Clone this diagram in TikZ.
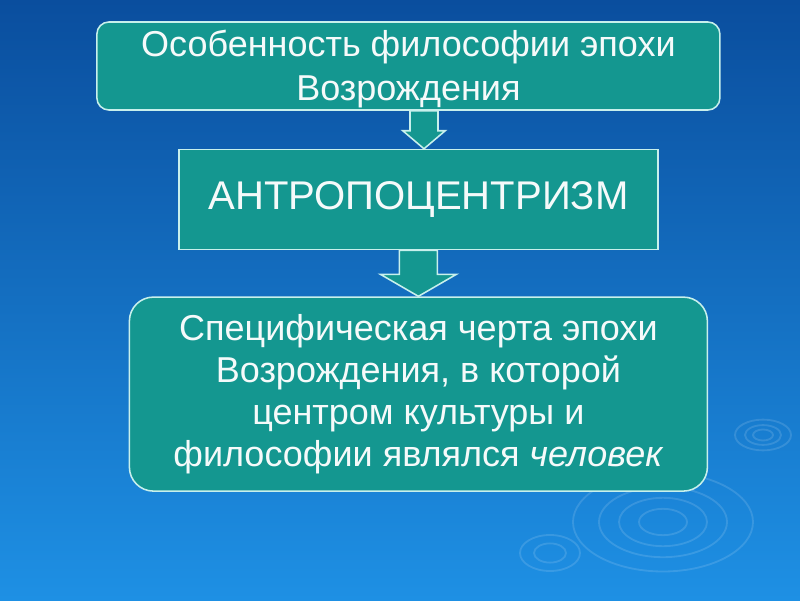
\documentclass[tikz,border=0pt]{standalone}
\usepackage{fontspec}
\setmainfont{Liberation Sans}
\usepackage{tikz}
\usetikzlibrary{positioning,calc,backgrounds}
\definecolor{bgtop}{RGB}{10,78,158}
\definecolor{bgbottom}{RGB}{30,144,228}
\definecolor{tealbox}{RGB}{20,151,144}
\definecolor{rim}{RGB}{200,240,236}
\definecolor{ink}{RGB}{245,250,250}

% block arrow: from, to, shaft half width, head half width, head length
\newcommand{\blockarrow}[5]{%
  \draw[arrowbody] let \p1=(#1), \p2=(#2) in
    (\x1-#3,\y1) -- (\x1+#3,\y1) -- (\x1+#3,\y2+#5) -- (\x1+#4,\y2+#5)
    -- (\x1,\y2) -- (\x1-#4,\y2+#5) -- (\x1-#3,\y2+#5) -- cycle;}

\begin{document}
\begin{tikzpicture}[
    box/.style={draw=rim, line width=1.1pt, fill=tealbox, text=ink, align=center, inner sep=0pt},
    bigtext/.style={font=\fontsize{25.6}{29.9}\selectfont},
    arrowbody/.style={draw=rim, line width=1.1pt, fill=tealbox, line join=miter},
    ripple/.style={draw=white, line width=1.3pt, opacity=0.13}
]
\useasboundingbox (0,0) rectangle (20,15);

% Boxes
\node[box, font=\fontsize{25.6}{31}\selectfont, text height=54pt, rounded corners=0.3cm, minimum width=15.575cm, minimum height=2.2cm] (feature) at (10.21,13.35) {Особенность философии эпохи\\Возрождения};
\node[box, font=\fontsize{28.5}{32}\selectfont, minimum width=11.975cm, minimum height=2.5cm, below=0.95cm of feature, xshift=0.25cm] (anthro) {АНТРОПОЦЕНТРИЗМ};
\node[box, bigtext, rounded corners=0.6cm, minimum width=14.45cm, minimum height=4.85cm, below=1.15cm of anthro] (trait) {Специфическая черта эпохи\\Возрождения, в которой\\центром культуры и\\философии являлся \textit{человек}};

% Arrows
\coordinate (a1) at ($(feature.south)+(0.39,0)$);
\blockarrow{a1}{a1 |- anthro.north}{0.35cm}{0.53cm}{0.45cm}
\blockarrow{anthro.south}{trait.north}{0.475cm}{0.95cm}{0.55cm}

% Background and ripples
\begin{scope}[on background layer]
\shade[top color=bgtop, bottom color=bgbottom] (0,0) rectangle (20,15);
\foreach \r in {0.25,0.45,0.7}
  \draw[ripple] (19.075,4.125) ellipse ({\r} and {0.55*\r});
\foreach \r in {0.6,1.1,1.6,2.25}
  \draw[ripple] (16.575,1.95) ellipse ({\r} and {0.55*\r});
\foreach \r in {0.4,0.75}
  \draw[ripple] (13.75,1.175) ellipse ({\r} and {0.6*\r});
\end{scope}

\end{tikzpicture}
\end{document}
